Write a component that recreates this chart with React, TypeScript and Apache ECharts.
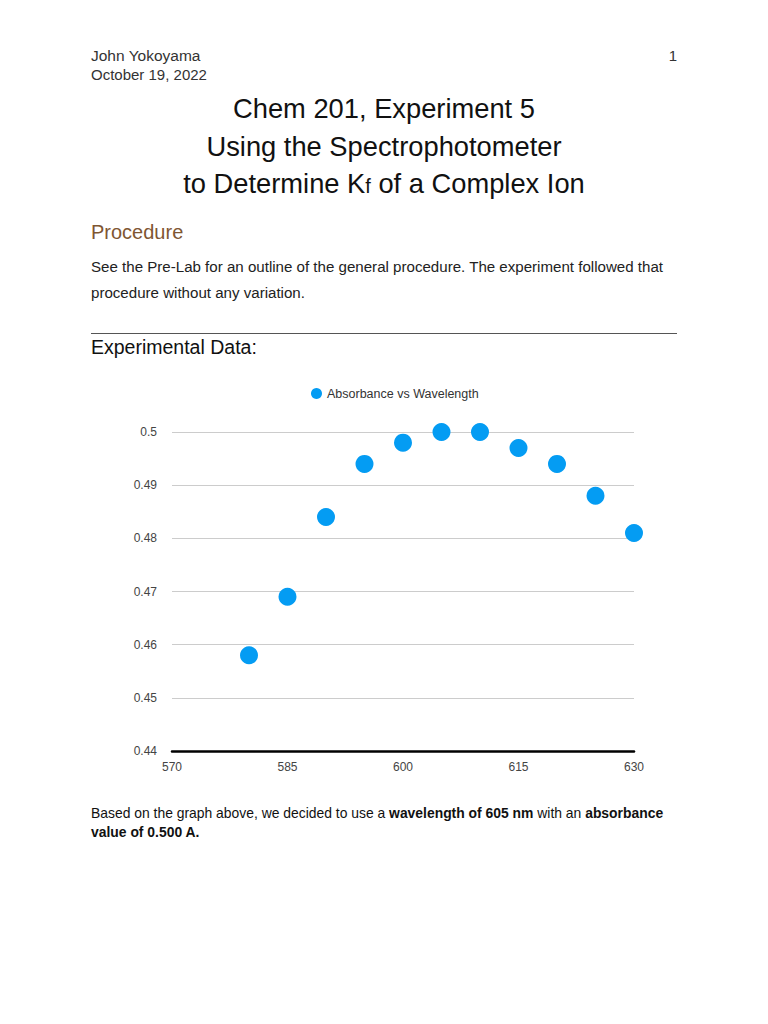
import React, { useEffect, useRef } from "react";
import * as echarts from "echarts";

const wavelengths = [580, 585, 590, 595, 600, 605, 610, 615, 620, 625, 630];
const absorbance = [0.458, 0.469, 0.484, 0.494, 0.498, 0.5, 0.5, 0.497, 0.494, 0.488, 0.481];
const seriesName = "Absorbance vs Wavelength";

const FONT = "'Liberation Sans', Arial, Helvetica, sans-serif";

export default function App() {
  const ref = useRef<HTMLDivElement>(null);
  useEffect(() => {
    if (!ref.current) return;
    const chart = echarts.init(ref.current, null, { renderer: "svg" });
    const data = wavelengths.map((w, i) => [w, absorbance[i]]);
    const txt = (x: number, y: number, text: string, size: number, color: string, extra: any = {}) => ({
      type: "text",
      x,
      y,
      style: {
        text,
        fontSize: size,
        fontFamily: FONT,
        fill: color,
        verticalAlign: "middle",
        align: "left",
        ...extra,
      },
    });
    chart.setOption({
      animation: false,
      backgroundColor: "#ffffff",
      textStyle: { fontFamily: FONT },
      legend: {
        show: true,
        left: 306,
        top: 382,
        icon: "circle",
        itemWidth: 11,
        itemHeight: 11,
        itemGap: 8,
        itemStyle: { opacity: 1 },
        textStyle: { fontSize: 12.5, color: "#333", fontFamily: FONT },
        data: [seriesName],
      },
      grid: { left: 172, right: 134, top: 432, bottom: 273 },
      xAxis: {
        type: "value",
        min: 570,
        max: 630,
        interval: 15,
        axisLine: { show: true, lineStyle: { color: "#000", width: 2.5 } },
        axisTick: { show: false },
        splitLine: { show: false },
        axisLabel: { color: "#444", fontSize: 12, margin: 10, fontFamily: FONT },
      },
      yAxis: {
        type: "value",
        min: 0.44,
        max: 0.5,
        interval: 0.01,
        axisLine: { show: false },
        axisTick: { show: false },
        splitLine: { show: true, lineStyle: { color: "#cccccc", width: 1 } },
        axisLabel: { color: "#444", fontSize: 12, margin: 15, fontFamily: FONT },
      },
      series: [
        {
          name: seriesName,
          type: "scatter",
          data,
          symbol: "circle",
          symbolSize: 18,
          itemStyle: { color: "#049cf3", opacity: 1 },
        },
      ],
      graphic: [
        txt(91, 55, "John Yokoyama", 15.5, "#333"),
        txt(91, 74, "October 19, 2022", 15, "#333"),
        txt(677, 55, "1", 15, "#333", { align: "right" }),
        txt(384, 108, "Chem 201, Experiment 5", 27.3, "#111", { align: "center" }),
        txt(384, 146, "Using the Spectrophotometer", 27.3, "#111", { align: "center" }),
        {
          type: "text",
          x: 384,
          y: 183,
          style: {
            text: "to Determine K{f|f} of a Complex Ion",
            fontSize: 27.3,
            fontFamily: FONT,
            fill: "#111",
            align: "center",
            verticalAlign: "middle",
            rich: {
              f: { fontSize: 20, fontFamily: FONT, fill: "#111", padding: [6, 0, 0, 0] },
            },
          },
        },
        txt(91, 232, "Procedure", 20, "#7f5632"),
        txt(91, 266, "See the Pre-Lab for an outline of the general procedure. The experiment followed that", 15.1, "#222"),
        txt(91, 292, "procedure without any variation.", 15.1, "#222"),
        {
          type: "line",
          shape: { x1: 91, y1: 333.5, x2: 677, y2: 333.5 },
          style: { stroke: "#555", lineWidth: 1 },
        },
        txt(91, 347, "Experimental Data:", 19.5, "#111"),
        {
          type: "text",
          x: 91,
          y: 803,
          style: {
            text: "Based on the graph above, we decided to use a {b|wavelength of 605 nm} with an {b|absorbance}\n{b|value of 0.500 A.}",
            fontSize: 13.9,
            fontFamily: FONT,
            fill: "#111",
            lineHeight: 19,
            align: "left",
            verticalAlign: "top",
            rich: {
              b: { fontSize: 13.9, fontWeight: "bold", fontFamily: FONT, fill: "#111", lineHeight: 19 },
            },
          },
        },
      ],
    });
    return () => chart.dispose();
  }, []);
  return (
    <div
      ref={ref}
      style={{ position: "absolute", left: 0, top: 0, width: 768, height: 1024, background: "#fff" }}
    />
  );
}
